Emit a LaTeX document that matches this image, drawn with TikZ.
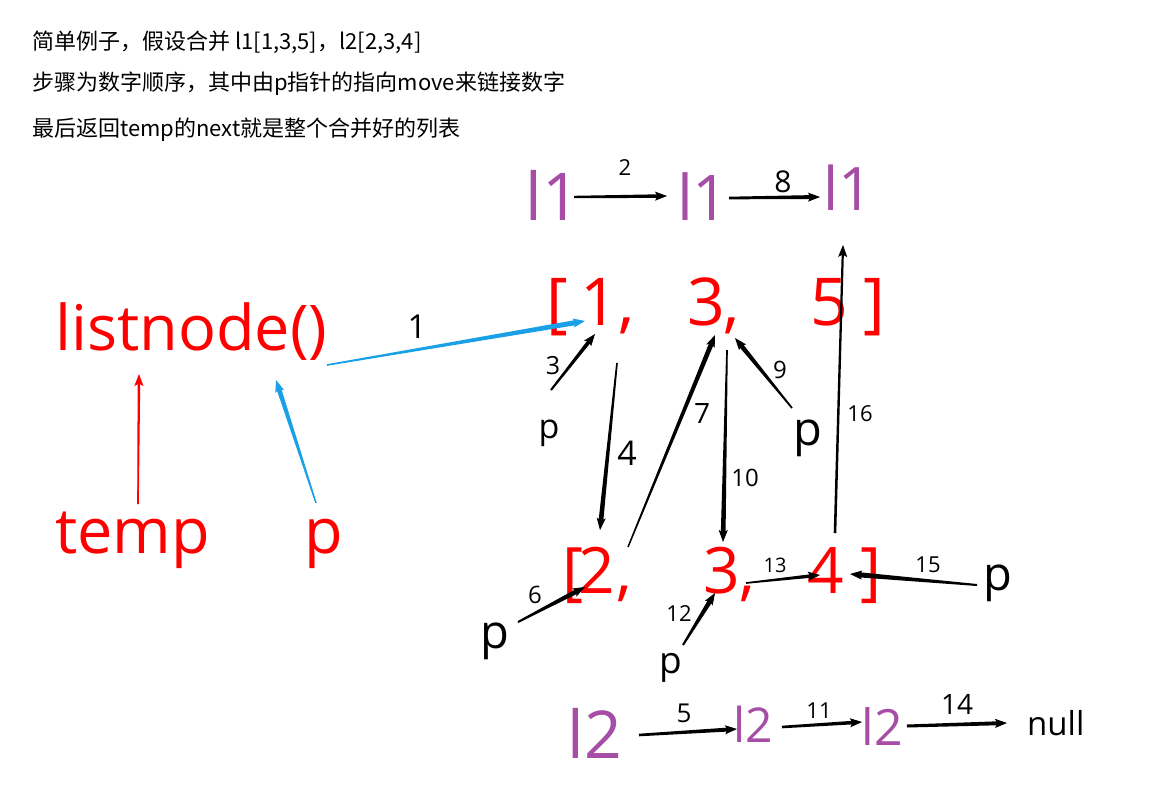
\documentclass[tikz,border=0pt]{standalone}
\usepackage{fontspec}
\setmainfont{Open Sans}
\newfontfamily\cjk{Noto Sans CJK SC}
\usetikzlibrary{arrows.meta,calc}
\definecolor{lred}{HTML}{FF0000}
\definecolor{lpurple}{HTML}{A64DA6}
\definecolor{lblue}{HTML}{1AA0E6}
\tikzset{
  fsz/.style={font=\fontsize{#1}{#1}\selectfont},
  glyph/.style={inner sep=0pt, anchor=base},
  lab/.style={inner sep=0pt, anchor=center, text=black},
  head/.style={inner sep=0pt, anchor=west, font=\cjk\fontsize{22}{26}\selectfont},
  arrowtip/.style={-{Stealth[length=12pt,width=9pt,inset=2.5pt]}}
}
\newcommand\tpArrow[5]{%
  \coordinate (tpE) at ($(#3)!7pt!(#2)$);
  \fill[#1] ($(#2)!#4!90:(#3)$) -- ($(tpE)!#5!-90:(#2)$) -- ($(tpE)!#5!90:(#2)$) -- ($(#2)!#4!-90:(#3)$) -- cycle;
  \draw[#1, line width=0.8pt, arrowtip] (#2) -- (#3);
}
\begin{document}
\begin{tikzpicture}[x=1pt,y=-1pt]
\fill[white] (0,0) rectangle (1173,793);
\useasboundingbox (0,0) rectangle (1173,793);

% header
\node[head] (h1) at (32,42) {简单例子，假设合并 l1[1,3,5]，l2[2,3,4]};
\node[head] (h2) at (32,84) {步骤为数字顺序，其中由p指针的指向move来链接数字};
\node[head] (h3) at (32,130) {最后返回temp的next就是整个合并好的列表};

% left red texts
\node[inner sep=0pt, anchor=base west, text=lred, fsz=63] (ln) at (55,350) {listnode()};
\node[inner sep=0pt, anchor=base west, text=lred, fsz=63] (temp) at (55,553) {temp};
\node[glyph, text=lred, fsz=63] (pr) at (324,553) {p};

% top list
\node[glyph, text=lred, fsz=66] (ta) at (557,325) {[};
\node[glyph, text=lred, fsz=66] (t1) at (599,325) {1};
\node[glyph, text=lred, fsz=66] (tc1) at (627,325) {,};
\node[glyph, text=lred, fsz=66] (t3) at (706,325) {3};
\node[glyph, text=lred, fsz=66] (tc2) at (732,325) {,};
\node[glyph, text=lred, fsz=66] (t5) at (829,325) {5};
\node[glyph, text=lred, fsz=66] (tb) at (874,325) {]};

% bottom list
\node[glyph, text=lred, fsz=64] (ba) at (573,593) {[};
\node[glyph, text=lred, fsz=64] (b2) at (597,593) {2};
\node[glyph, text=lred, fsz=64] (bc1) at (624,593) {,};
\node[glyph, text=lred, fsz=64] (b3) at (722,593) {3};
\node[glyph, text=lred, fsz=64] (bc2) at (747,593) {,};
\node[glyph, text=lred, fsz=64] (b4) at (826,593) {4};
\node[glyph, text=lred, fsz=64] (bb) at (871,593) {]};

% l1 row
\node[glyph, text=lpurple, fsz=66] (l1a) at (553,220) {l1};
\node[glyph, text=lpurple, fsz=63] (l1b) at (703,220) {l1};
\node[glyph, text=lpurple, fsz=60] (l1c) at (848,210) {l1};

% l2 row
\node[glyph, text=lpurple, fsz=66] (l2a) at (595,758) {l2};
\node[glyph, text=lpurple, fsz=48] (l2b) at (753,742) {l2};
\node[glyph, text=lpurple, fsz=50] (l2c) at (882,745) {l2};
\node[inner sep=0pt, anchor=base west, fsz=33] (null) at (1027,735) {null};

% black p pointers
\node[glyph, fsz=34] (p3) at (549,438) {p};
\node[glyph, fsz=47] (p9) at (808,445) {p};
\node[glyph, fsz=47] (p6) at (495,648) {p};
\node[glyph, fsz=37] (p12) at (671,673) {p};
\node[glyph, fsz=47] (p15) at (998,590) {p};

% step labels
\node[lab, fsz=33] (n1) at (417,327) {1};
\node[lab, fsz=22] (n2) at (625,168) {2};
\node[lab, fsz=25] (n3) at (553,366) {3};
\node[lab, fsz=34] (n4) at (627,453) {4};
\node[lab, fsz=26] (n5) at (684,713) {5};
\node[lab, fsz=24] (n6) at (535,595) {6};
\node[lab, fsz=28] (n7) at (702,413) {7};
\node[lab, fsz=30] (n8) at (783,182) {8};
\node[lab, fsz=24] (n9) at (780,370) {9};
\node[lab, fsz=24] (n10) at (745,478) {10};
\node[lab, fsz=22] (n11) at (819,711) {11};
\node[lab, fsz=22] (n12) at (679,614) {12};
\node[lab, fsz=20] (n13) at (775,565) {13};
\node[lab, fsz=28] (n14) at (957,704) {14};
\node[lab, fsz=22] (n15) at (928,565) {15};
\node[lab, fsz=22] (n16) at (860,414) {16};

% connector end points
\coordinate (s1) at (327,365);  \coordinate (e1) at (585,321);
\coordinate (s2) at (574,197);  \coordinate (e2) at (667,196);
\coordinate (s3) at (551,390);  \coordinate (e3) at (595,334);
\coordinate (s4) at (617,363);  \coordinate (e4) at (600,530);
\coordinate (s5) at (639,735);  \coordinate (e5) at (737,729);
\coordinate (s6) at (518,622);  \coordinate (e6) at (585,587);
\coordinate (s7) at (628,547);  \coordinate (e7) at (715,335);
\coordinate (s8) at (729,198);  \coordinate (e8) at (820,197);
\coordinate (s9) at (792,408);  \coordinate (e9) at (735,338);
\coordinate (s10) at (727,350); \coordinate (e10) at (723,542);
\coordinate (s11) at (782,727); \coordinate (e11) at (862,722);
\coordinate (s12) at (683,645); \coordinate (e12) at (715,593);
\coordinate (s13) at (746,583); \coordinate (e13) at (820,575);
\coordinate (s14) at (907,726); \coordinate (e14) at (1007,723);
\coordinate (s15) at (977,585); \coordinate (e15) at (850,574);
\coordinate (s16) at (835,533); \coordinate (e16) at (843,245);
\coordinate (sr) at (138,504);  \coordinate (er) at (139,374);
\coordinate (sb) at (316,503);  \coordinate (eb) at (276,380);

% connectors (tapered)
\tpArrow{lblue}{s1}{e1}{0.8pt}{2.6pt}
\tpArrow{black}{s2}{e2}{1.2pt}{1.8pt}
\tpArrow{black}{s3}{e3}{1pt}{2pt}
\tpArrow{black}{s4}{e4}{0.8pt}{2.4pt}
\tpArrow{black}{s5}{e5}{1.3pt}{2pt}
\tpArrow{black}{s6}{e6}{1pt}{2.4pt}
\tpArrow{black}{s7}{e7}{0.7pt}{2.4pt}
\tpArrow{black}{s8}{e8}{1.3pt}{2pt}
\tpArrow{black}{s9}{e9}{0.8pt}{2.4pt}
\tpArrow{black}{s10}{e10}{0.8pt}{2.4pt}
\tpArrow{black}{s11}{e11}{1.3pt}{1.8pt}
\tpArrow{black}{s12}{e12}{1pt}{2.4pt}
\tpArrow{black}{s13}{e13}{0.8pt}{1.8pt}
\tpArrow{black}{s14}{e14}{1.5pt}{2pt}
\tpArrow{black}{s15}{e15}{1pt}{2.6pt}
\tpArrow{black}{s16}{e16}{1.3pt}{1.1pt}
\tpArrow{lred}{sr}{er}{0.8pt}{1.3pt}
\tpArrow{lblue}{sb}{eb}{0.7pt}{2.4pt}
\end{tikzpicture}
\end{document}
